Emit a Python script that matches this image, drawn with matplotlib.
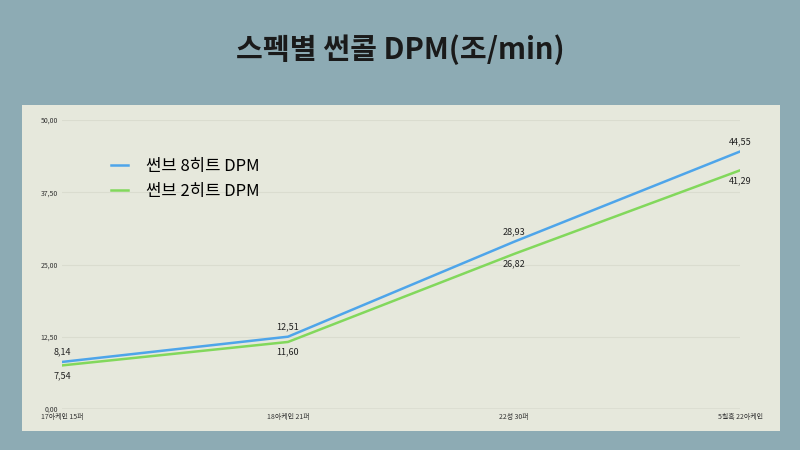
import matplotlib.pyplot as plt
from matplotlib.patches import Rectangle
import numpy as np

plt.rcParams['font.family'] = ['Noto Sans CJK KR', 'DejaVu Sans']

# --- data ---
stages = ['17아케인 15퍼', '18아케인 21퍼', '22성 30퍼', '5칠흑 22아케인']
dpm_8hit = [8.14, 12.51, 28.93, 44.55]
dpm_2hit = [7.54, 11.60, 26.82, 41.29]
y_ticks = [0, 12.5, 25, 37.5, 50]

blue = '#4ea5ea'
green = '#82d85c'

fig = plt.figure(figsize=(8, 4.5), dpi=100)
fig.patch.set_facecolor('#8dabb4')

# paper panel behind the chart
bg = fig.add_axes([0, 0, 1, 1], zorder=0)
bg.set_axis_off()
bg.set_xlim(0, 800)
bg.set_ylim(450, 0)
bg.add_patch(Rectangle((22, 105), 758, 326, facecolor='#e6e8dc', edgecolor='none'))

fig.text(0.5, 1 - 50 / 450, '스펙별 썬콜 DPM(조/min)', ha='center', va='center',
         fontsize=21, fontweight='bold', color='#1a1a1a')

ax = fig.add_axes([62 / 800, 1 - 409 / 450, 678 / 800, 289 / 450], zorder=2)
ax.set_facecolor('none')

x = np.arange(len(stages))
ax.plot(x, dpm_8hit, color=blue, lw=1.8, label='썬브 8히트 DPM', zorder=3)
ax.plot(x, dpm_2hit, color=green, lw=1.8, label='썬브 2히트 DPM', zorder=3)

for xi, v in zip(x, dpm_8hit):
    ax.annotate(f'{v:.2f}'.replace('.', ','), (xi, v), xytext=(0, 4),
                textcoords='offset points', ha='center', va='bottom',
                fontsize=6.5, color='#222222')
for xi, v in zip(x, dpm_2hit):
    ax.annotate(f'{v:.2f}'.replace('.', ','), (xi, v), xytext=(0, -4),
                textcoords='offset points', ha='center', va='top',
                fontsize=6.5, color='#222222')

ax.set_xlim(0, 3)
ax.set_ylim(0, 50)
ax.set_xticks(x)
ax.set_xticklabels(stages, fontsize=5, color='#333333')
ax.set_yticks(y_ticks)
ax.set_yticklabels([f'{t:.2f}'.replace('.', ',') for t in y_ticks],
                   fontsize=5, color='#333333')
ax.tick_params(length=0, pad=3)

ax.grid(axis='y', color='#dadccf', lw=0.8)
ax.axhline(0, color='#b8bab0', lw=1)
for s in ax.spines.values():
    s.set_visible(False)

ax.legend(loc='upper left', bbox_to_anchor=(0.05, 0.92), frameon=False,
          fontsize=12, handlelength=1.0, handletextpad=1.1, labelspacing=0.45)

fig.savefig('out.png', dpi=100, facecolor=fig.get_facecolor())
